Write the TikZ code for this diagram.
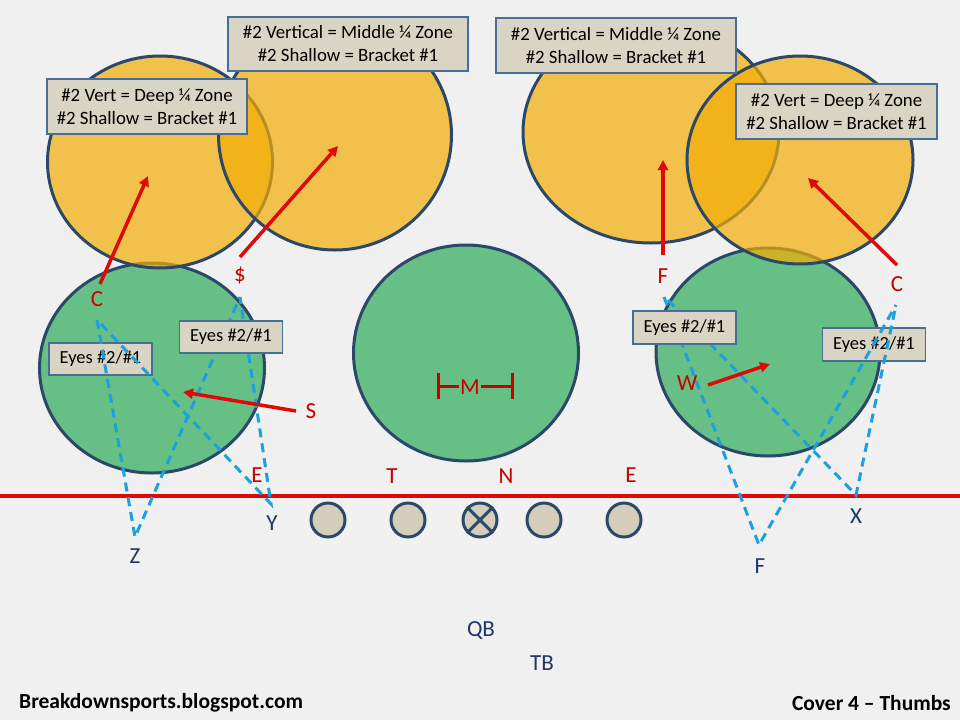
\documentclass[tikz,border=0pt]{standalone}
\usepackage{fontspec}
\setmainfont{Carlito}
\usetikzlibrary{shapes.geometric,arrows.meta}
\definecolor{bg}{RGB}{240,240,240}
\definecolor{edge}{RGB}{44,72,104}
\definecolor{grn}{RGB}{102,192,134}
\definecolor{yel}{RGB}{242,174,5}
\definecolor{boxfill}{RGB}{217,212,196}
\definecolor{boxedge}{RGB}{70,110,150}
\definecolor{lab}{RGB}{200,0,0}
\definecolor{redl}{RGB}{222,10,10}
\definecolor{navy}{RGB}{31,56,100}
\definecolor{cyanl}{RGB}{30,160,220}
\definecolor{olfill}{RGB}{212,205,186}
\begin{document}
\begin{tikzpicture}[x=1pt,y=-1pt,
  zoneG/.style={ellipse,draw=edge,line width=3pt,fill=grn,inner sep=0pt},
  zoneY/.style={ellipse,draw=edge,line width=3pt,fill=yel,fill opacity=0.7,inner sep=0pt},
  infobox/.style={draw=boxedge,line width=1.2pt,fill=boxfill,align=center,inner sep=0pt,
     font=\fontsize{18.8}{23}\selectfont},
  eyebox/.style={draw=boxedge,line width=1.2pt,fill=boxfill,inner sep=0pt,
     minimum width=103pt,minimum height=32pt,font=\fontsize{18.5}{20}\selectfont},
  dlab/.style={text=lab,inner sep=0pt,font=\fontsize{23}{23}\selectfont},
  olab/.style={text=navy,inner sep=0pt,font=\fontsize{23}{23}\selectfont},
  ol/.style={circle,draw=edge,line width=3pt,fill=olfill,minimum size=34pt,inner sep=0pt},
  rarrow/.style={draw=redl,line width=3.5pt,-{Triangle[length=10pt,width=10pt]}},
  eyes/.style={draw=cyanl,line width=3pt,dash pattern=on 9pt off 6pt},
  mbar/.style={draw=lab,line width=3pt}
]
\fill[bg] (0,0) rectangle (960,720);
\useasboundingbox (0,0) rectangle (960,720);

% green zones
\node[zoneG,minimum width=225pt,minimum height=210pt] (gC) at (152,368) {};
\node[zoneG,minimum width=225pt,minimum height=216pt] (gM) at (466,353) {};
\node[zoneG,minimum width=224pt,minimum height=208pt] (gW) at (768,352) {};

% yellow deep zones
\node[zoneY,minimum width=225pt,minimum height=212pt] (y1) at (160,162) {};
\node[zoneY,minimum width=233pt,minimum height=230pt] (y2) at (335,135) {};
\node[zoneY,minimum width=256pt,minimum height=222pt] (y3) at (651,132) {};
\node[zoneY,minimum width=226pt,minimum height=208pt] (y4) at (800,160) {};

% info boxes
\node[infobox,minimum width=200pt,minimum height=55pt] (bA) at (147,106.5) {\#2 Vert = Deep ¼ Zone\\\#2 Shallow = Bracket \#1};
\node[infobox,minimum width=240pt,minimum height=54pt] (bB) at (348,44) {\#2 Vertical = Middle ¼ Zone\\\#2 Shallow = Bracket \#1};
\node[infobox,minimum width=240pt,minimum height=55pt] (bC) at (616,45.5) {\#2 Vertical = Middle ¼ Zone\\\#2 Shallow = Bracket \#1};
\node[infobox,minimum width=201pt,minimum height=55pt] (bD) at (836.5,111.5) {\#2 Vert = Deep ¼ Zone\\\#2 Shallow = Bracket \#1};

% line of scrimmage
\coordinate (losL) at (0,496);
\coordinate (losR) at (960,496);
\draw[draw=redl,line width=3.5pt] (losL) -- (losR);

% offensive line
\node[ol] (o1) at (328,520) {};
\node[ol] (o2) at (408,520) {};
\node[ol] (o3) at (480,520) {};
\node[ol] (o4) at (544,520) {};
\node[ol] (o5) at (624,520) {};
\draw[draw=edge,line width=3pt] (o3.north west) -- (o3.south east);
\draw[draw=edge,line width=3pt] (o3.north east) -- (o3.south west);

% eyes boxes under the dashed lines
\node[eyebox] (e1) at (100.5,359) {Eyes \#2/\#1};
\node[eyebox,minimum height=33pt] (e4) at (874,344.5) {Eyes \#2/\#1};

% dashed eye lines
\coordinate (cL) at (97,320);
\coordinate (cL2) at (101,324);
\coordinate (sS) at (240,297);
\coordinate (zA) at (135,537);
\coordinate (yA) at (271,504);
\draw[eyes] (cL) -- (zA) -- (sS);
\draw[eyes] (cL2) -- (yA) -- (sS);
\coordinate (fT) at (664,297);
\coordinate (fT2) at (668,300);
\coordinate (fA) at (759,545);
\coordinate (cR) at (896,305);
\coordinate (xA) at (856,495);
\draw[eyes] (fT) -- (fA) -- (cR);
\draw[eyes] (fT2) -- (xA) -- (cR);

% eyes boxes over the dashed lines
\node[eyebox] (e2) at (231,337) {Eyes \#2/\#1};
\node[eyebox,minimum height=33pt] (e3) at (684.5,327.5) {Eyes \#2/\#1};

% red drops
\coordinate (a1s) at (100,284); \coordinate (a1e) at (148,176);
\coordinate (a2s) at (240,257); \coordinate (a2e) at (338,146);
\coordinate (a3s) at (663,255); \coordinate (a3e) at (663,160);
\coordinate (a4s) at (897,265); \coordinate (a4e) at (808,178);
\coordinate (a5s) at (296,411); \coordinate (a5e) at (183,392);
\coordinate (a6s) at (708,385); \coordinate (a6e) at (770,364);
\draw[rarrow] (a1s) -- (a1e);
\draw[rarrow] (a2s) -- (a2e);
\draw[rarrow] (a3s) -- (a3e);
\draw[rarrow] (a4s) -- (a4e);
\draw[rarrow] (a5s) -- (a5e);
\draw[rarrow] (a6s) -- (a6e);

% defender labels
\node[dlab] (dC1) at (97,299) {C};
\node[dlab] (dS1) at (240,276) {\$};
\node[dlab] (dS2) at (311,411) {S};
\node[dlab] (dE1) at (257,475) {E};
\node[dlab] (dT) at (392,476) {T};
\node[dlab] (dN) at (506,476) {N};
\node[dlab] (dE2) at (631,475) {E};
\node[dlab] (dF) at (663,276) {F};
\node[dlab] (dC2) at (897,284) {C};
\node[dlab] (dW) at (687,383) {W};
\node[dlab] (dM) at (470,387) {M};
\coordinate (m1) at (438,373); \coordinate (m2) at (438,399);
\coordinate (m3) at (438,386); \coordinate (m4) at (459,386);
\coordinate (m5) at (481,386); \coordinate (m6) at (512,386);
\coordinate (m7) at (512,373); \coordinate (m8) at (512,399);
\draw[mbar] (m1) -- (m2);
\draw[mbar] (m3) -- (m4);
\draw[mbar] (m5) -- (m6);
\draw[mbar] (m7) -- (m8);

% offensive labels
\node[olab] (oY) at (272,523) {Y};
\node[olab] (oZ) at (135,556) {Z};
\node[olab] (oF) at (760,566) {F};
\node[olab] (oX) at (856,516) {X};
\node[olab] (oQB) at (481,631) {QB};
\node[olab] (oTB) at (542,663) {TB};

% footer
\node[anchor=west,inner sep=0pt,font=\fontsize{21.5}{21.5}\selectfont\bfseries] (ft1) at (19,703) {Breakdownsports.blogspot.com};
\node[anchor=east,inner sep=0pt,font=\fontsize{21.5}{21.5}\selectfont\bfseries] (ft2) at (951,703) {Cover 4 – Thumbs};
\end{tikzpicture}
\end{document}
